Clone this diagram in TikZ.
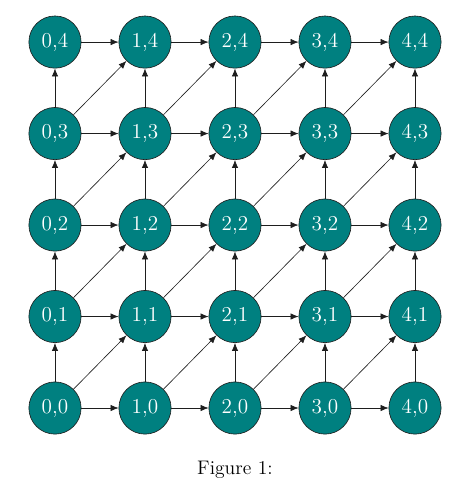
\documentclass[tikz,border=0pt]{standalone}
\usepackage{tikz}
\usetikzlibrary{arrows.meta,positioning}
\definecolor{gridteal}{RGB}{0,128,128}
\definecolor{gridedge}{RGB}{30,30,30}
\tikzset{
  vertex/.style={
    circle, draw=gridedge, thin, fill=gridteal,
    minimum size=1.16cm, inner sep=0pt,
    text=white, font=\fontsize{13.4}{16}\selectfont
  },
  arrow/.style={-{Latex[length=5pt,width=4pt]}, thin, color=gridedge}
}

\begin{document}
\begin{tikzpicture}[x=2cm, y=2.033cm]
  \useasboundingbox (-1.222cm,-2.133cm) rectangle (9.311cm,9.067cm);

  % grid of vertices
  \foreach \i in {0,...,4}
    \foreach \j in {0,...,4}
      \node[vertex] (n-\i-\j) at (\i,\j) {\i,\j};

  % right, up and diagonal edges
  \foreach \i in {0,...,4}
    \foreach \j in {0,...,4} {
      \pgfmathtruncatemacro{\ni}{\i+1}
      \pgfmathtruncatemacro{\nj}{\j+1}
      \ifnum\i<4 \draw[arrow] (n-\i-\j) -- (n-\ni-\j); \fi
      \ifnum\j<4 \draw[arrow] (n-\i-\j) -- (n-\i-\nj); \fi
      \ifnum\i<4 \ifnum\j<4 \draw[arrow] (n-\i-\j) -- (n-\ni-\nj); \fi\fi
    }

  \node[font=\fontsize{12.4}{15}\selectfont] (caption) at (2,-1.378cm) {Figure 1:};
\end{tikzpicture}
\end{document}
